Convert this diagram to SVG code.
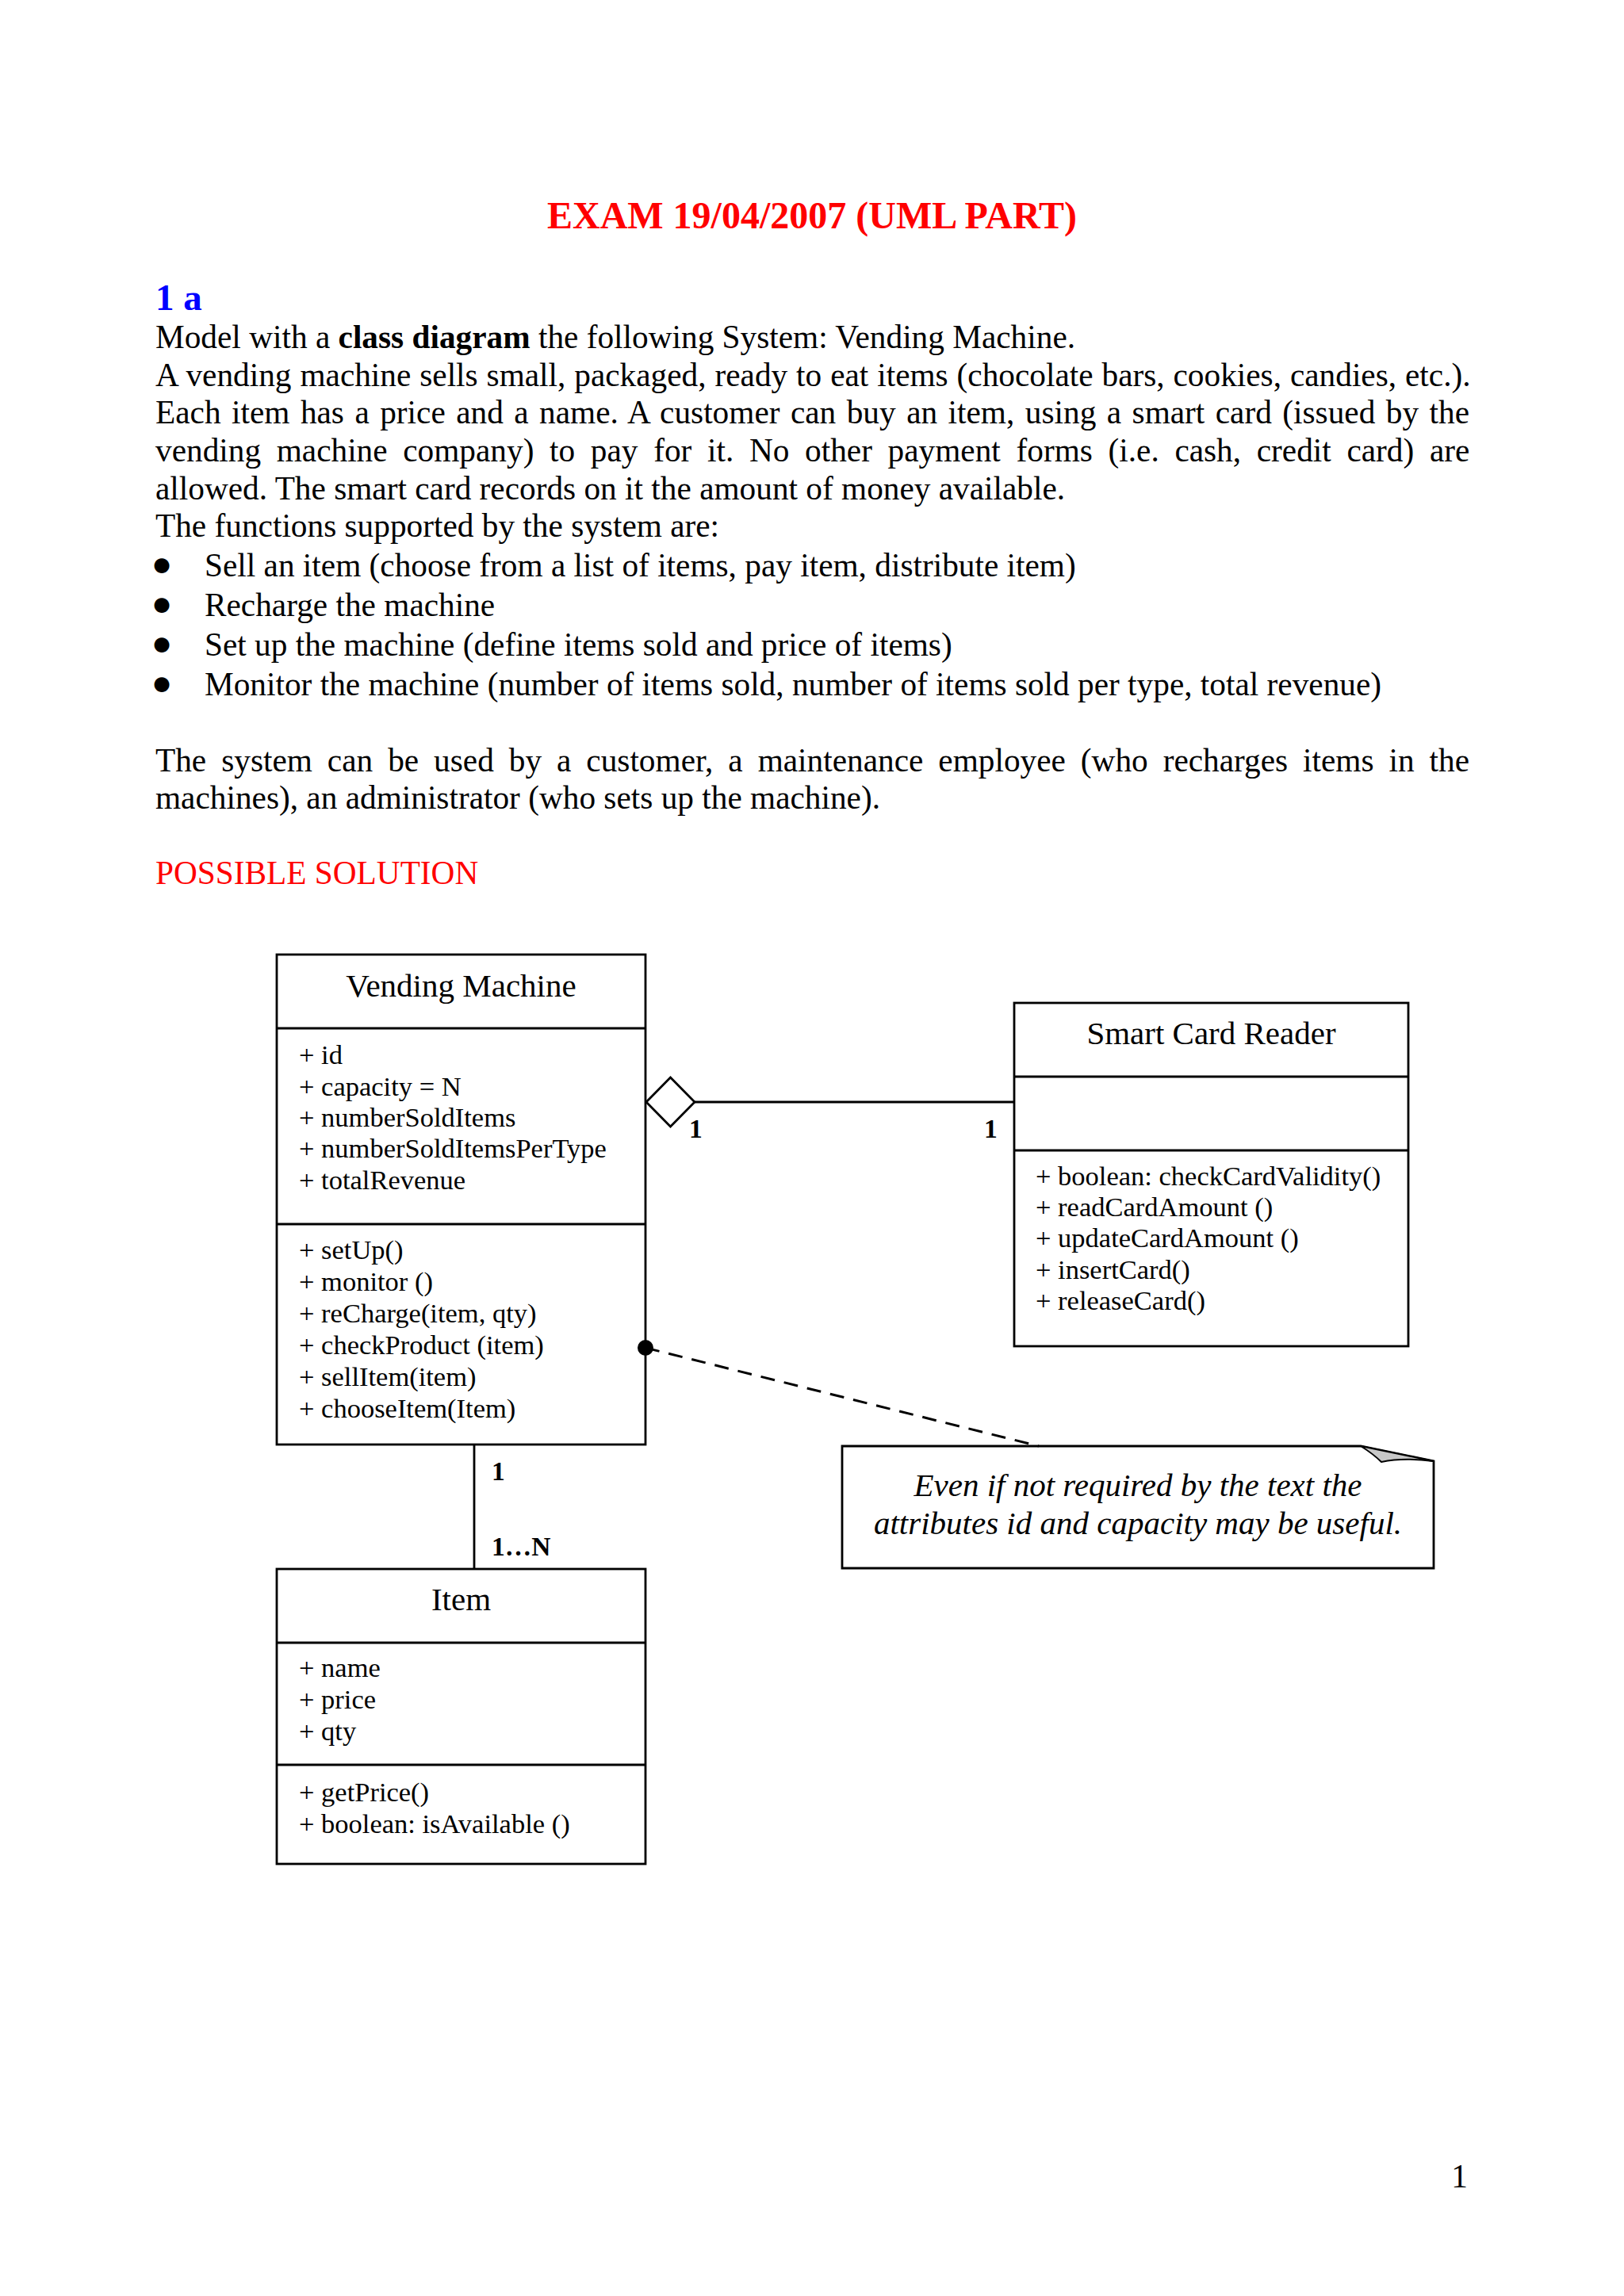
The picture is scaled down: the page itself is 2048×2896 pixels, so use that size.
<svg xmlns="http://www.w3.org/2000/svg" width="2048" height="2896" viewBox="0 0 2048 2896">
<style>
text{font-family:"Liberation Serif","Times New Roman",serif;fill:#000}
.body{font-size:41.3px}
.bullet{font-size:44px;text-anchor:middle}
.title{font-size:48px;font-weight:bold;fill:#ff0000}
.sec{font-size:47px;font-weight:bold;fill:#0000ff}
.red{fill:#ff0000}
.cname{font-size:41px;text-anchor:middle}
.mem{font-size:34.5px}
.mult{font-size:33.5px;font-weight:bold}
.note{font-size:41px;font-style:italic;text-anchor:middle}
.box{fill:none;stroke:#000;stroke-width:2.8}
.ln{stroke:#000;stroke-width:2.8;fill:none}
</style>
<rect width="2048" height="2896" fill="#ffffff"/>

<g id="page-text">
<text class="title" x="1024" y="288" text-anchor="middle">EXAM 19/04/2007 (UML PART)</text>
<text class="sec" x="196" y="391">1 a</text>
<text class="body" x="196" y="439">Model with a <tspan font-weight="bold">class diagram</tspan> the following System: Vending Machine.</text>
<text class="body" x="196" y="487" word-spacing="0.6">A vending machine sells small, packaged, ready to eat items (chocolate bars, cookies, candies, etc.).</text>
<text class="body" x="196" y="534" word-spacing="3.15">Each item has a price and a name. A customer can buy an item, using a smart card (issued by the</text>
<text class="body" x="196" y="582" word-spacing="9.35">vending machine company) to pay for it. No other payment forms (i.e. cash, credit card) are</text>
<text class="body" x="196" y="630">allowed. The smart card records on it the amount of money available.</text>
<text class="body" x="196" y="677">The functions supported by the system are:</text>
<text class="bullet" x="204" y="726">●</text>
<text class="body" x="258" y="727">Sell an item (choose from a list of items, pay item, distribute item)</text>
<text class="bullet" x="204" y="776">●</text>
<text class="body" x="258" y="777">Recharge the machine</text>
<text class="bullet" x="204" y="826">●</text>
<text class="body" x="258" y="827">Set up the machine (define items sold and price of items)</text>
<text class="bullet" x="204" y="876">●</text>
<text class="body" x="258" y="877">Monitor the machine (number of items sold, number of items sold per type, total revenue)</text>
<text class="body" x="196" y="973" word-spacing="8.65">The system can be used by a customer, a maintenance employee (who recharges items in the</text>
<text class="body" x="196" y="1020">machines), an administrator (who sets up the machine).</text>
<text class="body red" x="196" y="1115">POSSIBLE SOLUTION</text>
<text class="body" x="1851" y="2759" text-anchor="end">1</text>
</g>

<g id="connectors">
<line class="ln" x1="876" y1="1390" x2="1279" y2="1390"/>
<polygon points="815,1390 845.5,1359 876,1390 845.5,1421" fill="#ffffff" stroke="#000" stroke-width="2.8"/>
<text class="mult" x="869" y="1435">1</text>
<text class="mult" x="1241" y="1435">1</text>
<line class="ln" x1="598" y1="1822" x2="598" y2="1979"/>
<text class="mult" x="620" y="1867">1</text>
<text class="mult" x="620" y="1962">1…N</text>
<line x1="814" y1="1700" x2="1310" y2="1824" stroke="#000" stroke-width="3" stroke-dasharray="18,12"/>
<circle cx="814" cy="1700" r="10" fill="#000"/>
</g>

<g id="node-vending-machine">
<rect class="box" x="349" y="1204" width="465" height="618"/>
<line class="ln" x1="349" y1="1297" x2="814" y2="1297"/>
<line class="ln" x1="349" y1="1544" x2="814" y2="1544"/>
<text class="cname" x="581.5" y="1257">Vending Machine</text>
<text class="mem" x="377" y="1342">+ id</text>
<text class="mem" x="377" y="1382">+ capacity = N</text>
<text class="mem" x="377" y="1421">+ numberSoldItems</text>
<text class="mem" x="377" y="1460">+ numberSoldItemsPerType</text>
<text class="mem" x="377" y="1500">+ totalRevenue</text>
<text class="mem" x="377" y="1588">+ setUp()</text>
<text class="mem" x="377" y="1628">+ monitor ()</text>
<text class="mem" x="377" y="1668">+ reCharge(item, qty)</text>
<text class="mem" x="377" y="1708">+ checkProduct (item)</text>
<text class="mem" x="377" y="1748">+ sellItem(item)</text>
<text class="mem" x="377" y="1788">+ chooseItem(Item)</text>
</g>

<g id="node-smart-card-reader">
<rect class="box" x="1279" y="1265" width="497" height="433"/>
<line class="ln" x1="1279" y1="1358" x2="1776" y2="1358"/>
<line class="ln" x1="1279" y1="1451" x2="1776" y2="1451"/>
<text class="cname" x="1527.5" y="1317">Smart Card Reader</text>
<text class="mem" x="1306" y="1495">+ boolean: checkCardValidity()</text>
<text class="mem" x="1306" y="1534">+ readCardAmount ()</text>
<text class="mem" x="1306" y="1573">+ updateCardAmount ()</text>
<text class="mem" x="1306" y="1613">+ insertCard()</text>
<text class="mem" x="1306" y="1652">+ releaseCard()</text>
</g>

<g id="node-item">
<rect class="box" x="349" y="1979" width="465" height="372"/>
<line class="ln" x1="349" y1="2072" x2="814" y2="2072"/>
<line class="ln" x1="349" y1="2226" x2="814" y2="2226"/>
<text class="cname" x="581.5" y="2031">Item</text>
<text class="mem" x="377" y="2115">+ name</text>
<text class="mem" x="377" y="2155">+ price</text>
<text class="mem" x="377" y="2195">+ qty</text>
<text class="mem" x="377" y="2272">+ getPrice()</text>
<text class="mem" x="377" y="2312">+ boolean: isAvailable ()</text>
</g>

<g id="node-note">
<path class="box" d="M1062,1824 H1716 L1808,1843 V1978 H1062 Z" fill="#ffffff"/>
<path d="M1716,1824 L1808,1843 Q1770,1838 1742,1844 Q1732,1834 1716,1824 Z" fill="#c8c8c8" stroke="#000" stroke-width="2"/>
<text class="note" x="1435" y="1887">Even if not required by the text the</text>
<text class="note" x="1435" y="1935">attributes id and capacity may be useful.</text>
</g>
</svg>
